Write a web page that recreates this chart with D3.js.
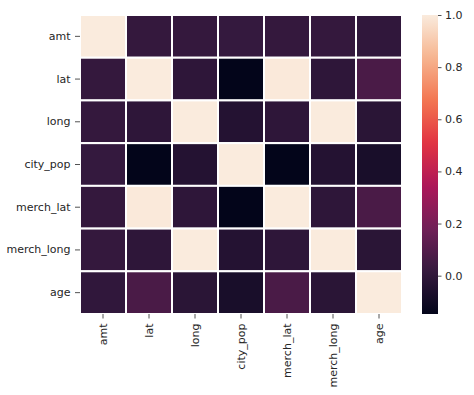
<!DOCTYPE html>
<html lang="en">
<head>
<meta charset="utf-8">
<title>Correlation heatmap</title>
<script src="https://d3js.org/d3.v7.min.js"></script>
<style>
  body { margin: 0; background: #fff; }
  text { font-family: "DejaVu Sans", sans-serif; fill: #262626; }
</style>
</head>
<body>
<script>
// column names, same order on both axes
var names = ["amt", "lat", "long", "city_pop", "merch_lat", "merch_long", "age"];

// correlation rows
var amtRow       = [1.000,  0.012,  0.012,  0.015,  0.012,  0.012,  0.002];
var latRow       = [0.012,  1.000, -0.005, -0.147,  0.994, -0.005,  0.075];
var longRow      = [0.012, -0.005,  1.000, -0.040, -0.005,  0.999, -0.020];
var cityPopRow   = [0.015, -0.147, -0.040,  1.000, -0.146, -0.040, -0.075];
var merchLatRow  = [0.012,  0.994, -0.005, -0.146,  1.000, -0.005,  0.074];
var merchLongRow = [0.012, -0.005,  0.999, -0.040, -0.005,  1.000, -0.020];
var ageRow       = [0.002,  0.075, -0.020, -0.075,  0.074, -0.020,  1.000];
var rows = [amtRow, latRow, longRow, cityPopRow, merchLatRow, merchLongRow, ageRow];

var cbarTicks = [0.0, 0.2, 0.4, 0.6, 0.8, 1.0];

// seaborn "rocket" approximated with a few stops
var rocket = ["#03051a", "#35193e", "#701f57", "#ad1759", "#e13342", "#f37651", "#f6b48f", "#faebdd"];

// note: "top" clashes with window.top, so use plot* names
var w = 474, h = 395;
var plotL = 80, plotR = 402, plotT = 15, plotB = 314;

var cells = [];
rows.forEach(function(r, i) {
  r.forEach(function(v, j) {
    cells.push({row: names[i], col: names[j], value: v});
  });
});

var vmin = d3.min(cells, function(d) { return d.value; });
var vmax = d3.max(cells, function(d) { return d.value; });

var color = d3.scaleLinear()
  .domain(rocket.map(function(c, i) { return vmin + (vmax - vmin) * i / (rocket.length - 1); }))
  .range(rocket)
  .interpolate(d3.interpolateRgb);

var x = d3.scaleBand().domain(names).range([plotL, plotR]);
var y = d3.scaleBand().domain(names).range([plotT, plotB]);

var svg = d3.select("body").append("svg")
  .attr("width", w)
  .attr("height", h);

svg.append("g").selectAll("rect")
  .data(cells)
  .enter().append("rect")
  .attr("x", function(d) { return x(d.col); })
  .attr("y", function(d) { return y(d.row); })
  .attr("width", x.bandwidth())
  .attr("height", y.bandwidth())
  .attr("fill", function(d) { return color(d.value); })
  .attr("stroke", "#fff")
  .attr("stroke-width", 2);

// axes
var xAxis = svg.append("g")
  .attr("transform", "translate(0," + plotB + ")")
  .call(d3.axisBottom(x).tickSize(4.5).tickPadding(3));
xAxis.select(".domain").remove();
xAxis.selectAll("line").attr("stroke", "#262626").attr("stroke-width", 0.8);
xAxis.selectAll("text")
  .attr("font-size", "11px")
  .attr("font-family", "DejaVu Sans")
  .attr("fill", "#262626")
  .attr("transform", "rotate(-90)")
  .attr("text-anchor", "end")
  .attr("x", -9.5)
  .attr("y", 0)
  .attr("dy", "0.35em");

var yAxis = svg.append("g")
  .attr("transform", "translate(" + plotL + ",0)")
  .call(d3.axisLeft(y).tickSize(5).tickPadding(4.5));
yAxis.select(".domain").remove();
yAxis.selectAll("line").attr("stroke", "#262626").attr("stroke-width", 0.8);
yAxis.selectAll("text")
  .attr("font-size", "11px")
  .attr("font-family", "DejaVu Sans")
  .attr("fill", "#262626");

// colorbar
var cbX = 422, cbW = 16;
var cb = d3.scaleLinear().domain([vmin, vmax]).range([plotB, plotT]);

var grad = svg.append("defs").append("linearGradient")
  .attr("id", "cbar")
  .attr("x1", 0).attr("y1", 1).attr("x2", 0).attr("y2", 0);
d3.range(0, 1.0001, 0.02).forEach(function(t) {
  grad.append("stop")
    .attr("offset", t)
    .attr("stop-color", color(vmin + (vmax - vmin) * t));
});

svg.append("rect")
  .attr("x", cbX)
  .attr("y", plotT)
  .attr("width", cbW)
  .attr("height", plotB - plotT)
  .attr("fill", "url(#cbar)");

var cAxis = svg.append("g")
  .attr("transform", "translate(" + (cbX + cbW) + ",0)")
  .call(d3.axisRight(cb).tickValues(cbarTicks).tickFormat(d3.format(".1f")).tickSize(3.5).tickPadding(3.5));
cAxis.select(".domain").remove();
cAxis.selectAll("line").attr("stroke", "#262626").attr("stroke-width", 0.8);
cAxis.selectAll("text")
  .attr("font-size", "11px")
  .attr("font-family", "DejaVu Sans")
  .attr("fill", "#262626");
</script>
</body>
</html>
